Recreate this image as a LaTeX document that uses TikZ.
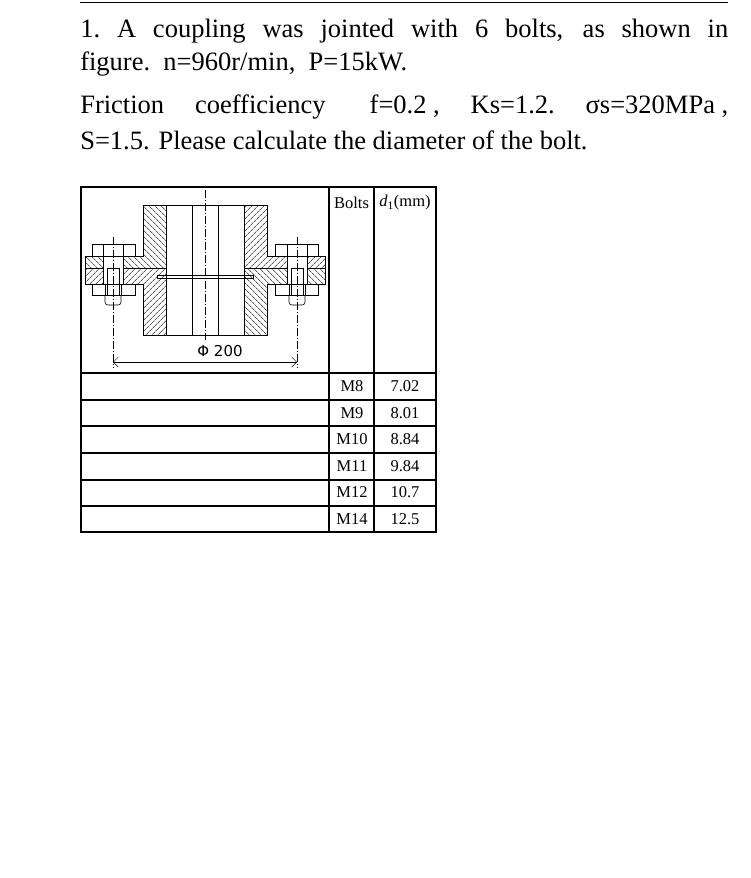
\documentclass[tikz,border=0pt]{standalone}
\usepackage{fontspec}
\setmainfont{Liberation Serif}
\newfontfamily\dejavu{DejaVu Sans}
\usetikzlibrary{patterns.meta,arrows.meta}
\begin{document}
\begin{tikzpicture}[x=1pt,y=-1pt,line width=0.6pt,
  hatchL/.style={pattern={Lines[angle=-45,distance=4pt,line width=0.5pt]},draw},
  hatchR/.style={pattern={Lines[angle=45,distance=4pt,line width=0.5pt]},draw},
  cl/.style={line width=0.4pt,dash pattern=on 8pt off 2pt on 1pt off 2pt},
  txtline/.style={anchor=west,inner sep=0pt,font=\fontsize{26.5}{30}\selectfont},
  cell/.style={font=\fontsize{16.5}{16}\selectfont,inner sep=0pt}]
\useasboundingbox (0,0) rectangle (750,878);
\draw[line width=0.8pt] (80,2) -- (728,2);
\node[txtline] (l1) at (80,31) {\hbox to 648pt{1.\ A coupling was jointed with 6 bolts, as shown in}};
\node[txtline] (l2) at (80,64) {figure.\ \ n=960r/min,\ \ P=15kW.};
\node[txtline] (l3) at (80,107) {\hbox to 648pt{Friction\hfill coefficiency\hfill\ \ f=0.2 ,\hfill Ks=1.2.\hfill σs=320MPa ,}};
\node[txtline] (l4) at (80,140) {S=1.5. Please calculate the diameter of the bolt.};
% table
\draw[line width=1.1pt] (81,187) rectangle (436,532);
\draw[line width=1.1pt] (329,187) -- (329,532) (374,187) -- (374,532);
\foreach \y in {373,400,426,453,480,506} \draw[line width=1.1pt] (81,\y) -- (436,\y);
\node[cell] (hb) at (351.5,203) {Bolts};
\node[cell] (hd) at (405,203) {\textit{d}\textsubscript{1}(mm)};
\foreach \m/\d [count=\i] in {M8/7.02,M9/8.01,M10/8.84,M11/9.84,M12/10.7,M14/12.5}{
  \node[cell] (m\i) at (352,373+26.5*\i-13) {\m};
  \node[cell] (d\i) at (405,373+26.5*\i-13) {\d};}
% coupling
\foreach \s/\hu/\hd in {1/hatchL/hatchR,-1/hatchR/hatchL}{
\begin{scope}[xshift={205pt*(1-\s)},xscale=\s]
 \path[\hu] (143,205)--(166,205)--(166,268)--(85,268)--(85,256)--(143,256)--cycle;
 \path[\hd] (85,268)--(166,268)--(166,335)--(143,335)--(143,284)--(85,284)--cycle;
 \fill[white] (103,256) rectangle (123,284);
 \draw (103,256) rectangle (123,284);
 \draw (92,244) rectangle (135,256) (103,244)--(103,256) (123,244)--(123,256);
 \draw (92,284) rectangle (135,295) (105,284)--(105,295) (121,284)--(121,295);
 \draw (105,295)--(105,302) to[out=-90,in=180] (108,305)--(118,305) to[out=0,in=-90] (121,302)--(121,295);
 \draw (107,268)--(107,295) (119,268)--(119,295) (107,268)--(119,268);
 \draw[cl] (113,237)--(113,368);
 \draw (166,275)--(157,275)--(157,278)--(166,278);
\end{scope}}
\draw (166,205)--(244,205) (166,335)--(244,335);
\draw (192,205)--(192,335) (218,205)--(218,335);
\draw (166,275)--(244,275) (166,278)--(244,278);
\draw[cl] (205,190)--(205,340);
\draw[line width=0.4pt,{Straight Barb[length=5pt]}-{Straight Barb[length=5pt]}] (113,362)--(297,362);
\node[font=\dejavu\fontsize{15}{15}\selectfont,inner sep=0pt] (dim) at (220,351) {Φ 200};
\end{tikzpicture}
\end{document}
